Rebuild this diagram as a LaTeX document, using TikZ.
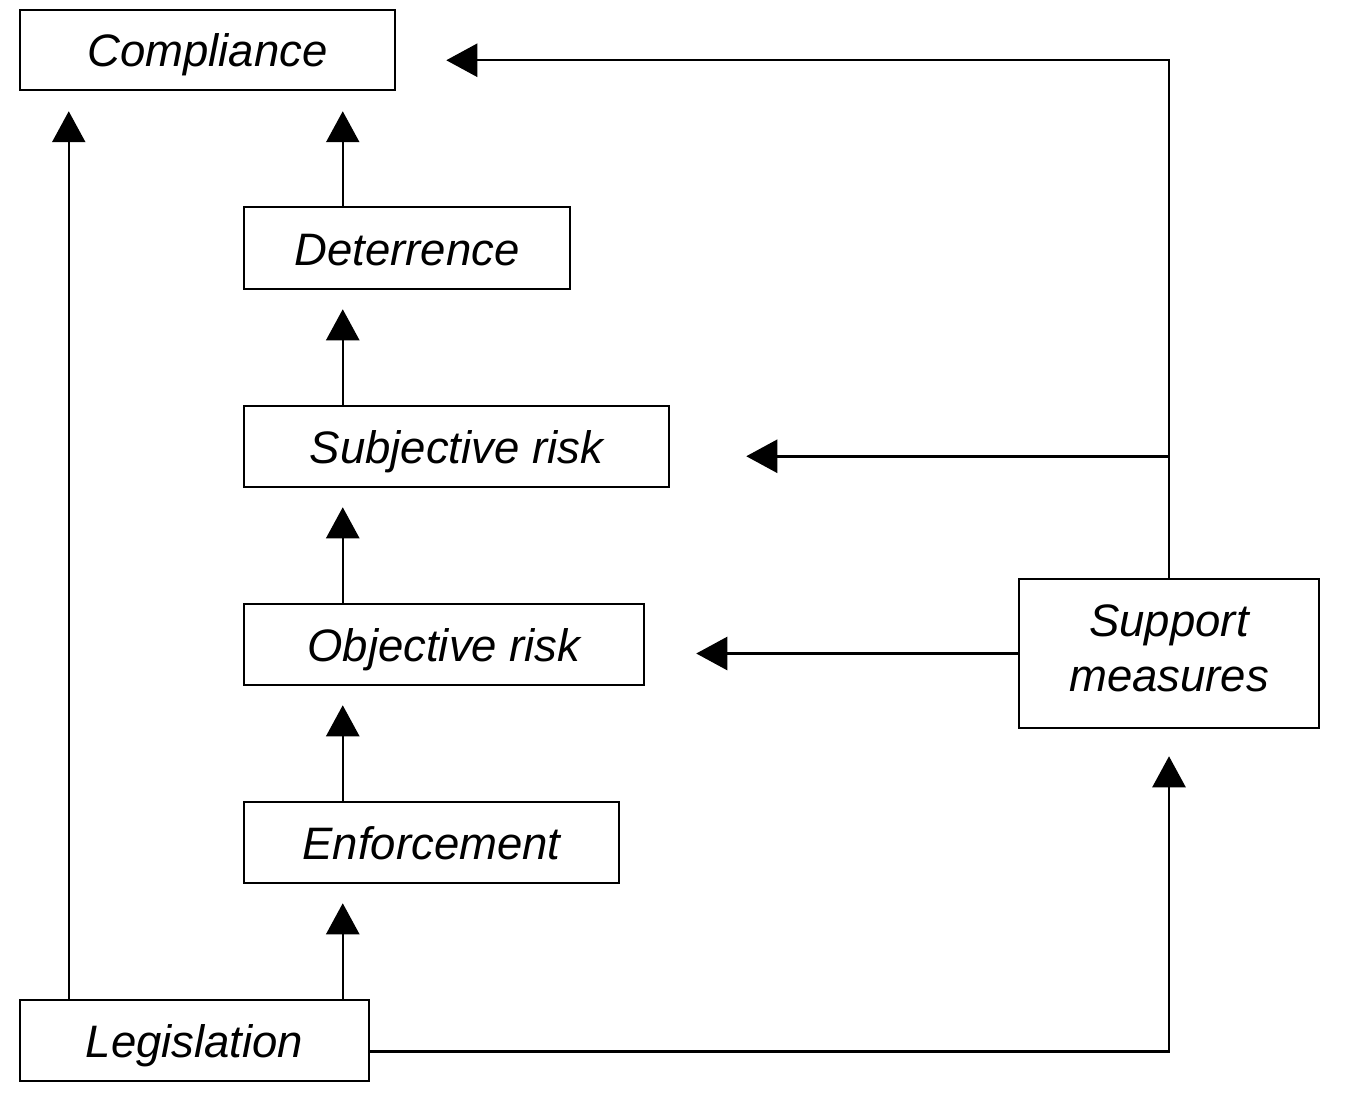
\documentclass[tikz,border=0pt]{standalone}
\usepackage{fontspec}
\setmainfont{Liberation Sans}
\usetikzlibrary{arrows.meta,calc}
\begin{document}
\begin{tikzpicture}[x=1pt,y=-1pt,
  box/.style={draw,line width=2.5pt,inner sep=0pt,font=\fontsize{45.5}{55}\selectfont\itshape,align=center,text height=44pt,text depth=10pt},
  arr/.style={line width=2.5pt,-{Triangle[length=31pt,width=33pt]}}]
\useasboundingbox (0,0) rectangle (1351,1102);
\node[box,minimum width=375pt,minimum height=80pt] (comp) at (207.5,50) {Compliance};
\node[box,minimum width=326pt,minimum height=82pt] (deter) at (407,248) {Deterrence};
\node[box,minimum width=425pt,minimum height=81pt] (subj) at (456.5,446.5) {Subjective risk};
\node[box,minimum width=400pt,minimum height=81pt] (obj) at (444,644.5) {Objective risk};
\node[box,minimum width=375pt,minimum height=81pt] (enf) at (431.5,842.5) {Enforcement};
\node[box,minimum width=349pt,minimum height=81pt] (leg) at (194.5,1040.5) {Legislation};
\node[box,minimum width=300pt,minimum height=149pt,text height=40pt,text depth=75pt] (sup) at (1169,653.5)
  {\begin{tabular}[t]{@{}c@{}}Support\\measures\end{tabular}};
\coordinate (tipSub) at ($(subj.south east)+(76,-32)$);
\coordinate (tipComp) at ($(comp.south east)+(50,-31)$);
\coordinate (tipObj) at ($(obj.east)+(51,0)$);
\coordinate (legOut) at ($(leg.south east)+(0,-31)$);
\draw[arr] ($(leg.north west)+(50,0)$) -- ($(comp.south west)+(50,20)$);
\draw[arr] ($(deter.north west)+(100,0)$) -- ($(comp.south west)+(324,20)$);
\draw[arr] ($(subj.north west)+(100,0)$) -- ($(deter.south west)+(100,19)$);
\draw[arr] ($(obj.north west)+(100,0)$) -- ($(subj.south west)+(100,19)$);
\draw[arr] ($(enf.north west)+(100,0)$) -- ($(obj.south west)+(100,19)$);
\draw[arr] ($(leg.north west)+(324,0)$) -- ($(enf.south west)+(100,19)$);
\draw[arr] (legOut) -| ($(sup.south)+(0,27)$);
\draw[arr] (sup.west) -- (sup.west -| tipObj);
\draw[arr] (sup.north) |- (tipSub);
\draw[arr] (sup.north) |- (tipComp);
\end{tikzpicture}
\end{document}
